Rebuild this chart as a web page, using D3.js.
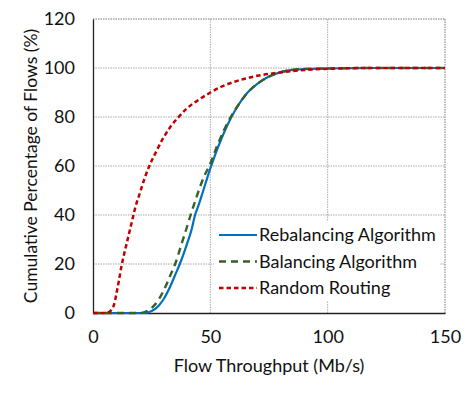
<!DOCTYPE html>
<html>
<head>
<meta charset="utf-8">
<script src="https://cdn.jsdelivr.net/npm/d3@7"></script>
<style>
  body { margin: 0; background: #fff; }
  text { font-family: Lato, "Open Sans", sans-serif; fill: #111; }
</style>
</head>
<body>
<div id="chart"></div>
<script>
'use strict';

// Values (x = throughput Mb/s, y = cumulative %)
const rebalX = [0, 22, 25, 28, 30, 33, 35, 37, 40, 42, 43.5, 45, 47, 50, 53, 56, 59, 62, 65, 70, 75, 80, 85, 90, 100, 120, 150];
const rebalY = [0, 0, 0.8, 3, 5.5, 11, 15.5, 20, 28, 34, 40, 44, 50, 59, 67, 74, 80, 85, 89, 93.5, 96.5, 98.3, 99.2, 99.6, 99.8, 100, 100];

const balX = [0, 20, 23, 26, 28, 31, 33, 35, 38, 40, 41.6, 44, 47, 50, 53, 56, 59, 62, 65, 70, 75, 80, 85, 90, 100, 120, 150];
const balY = [0, 0, 0.8, 3, 5.5, 11, 15.5, 20, 29, 35, 40, 47, 55, 61, 68.5, 75, 80.5, 85, 89, 93.5, 96.5, 98.3, 99.2, 99.6, 99.8, 100, 100];

const randX = [0, 5, 7, 8, 9, 10, 11, 12, 13, 14, 15, 16, 17, 18, 20, 22, 24, 27, 30, 33, 36, 40, 45, 50, 55, 60, 70, 80, 90, 100, 120, 150];
const randY = [0, 0, 0.5, 1.5, 3.5, 8, 13, 18.5, 23, 27, 31, 35, 39, 43, 49, 55, 60, 66, 71.5, 76, 79.5, 83.5, 87, 90, 92.5, 94.3, 96.8, 98.2, 99.2, 99.7, 100, 100];

const seriesNames = ["Rebalancing Algorithm", "Balancing Algorithm", "Random Routing"];
const xTicks = [0, 50, 100, 150];
const yTicks = [0, 20, 40, 60, 80, 100, 120];

const width = 474;
const height = 394;
const margin = {top: 19, right: 29, bottom: 81, left: 93};

const svg = d3.select("#chart").append("svg")
    .attr("width", width)
    .attr("height", height);

const x = d3.scaleLinear().domain([0, 150]).range([margin.left, width - margin.right]);
const y = d3.scaleLinear().domain([0, 120]).range([height - margin.bottom, margin.top]);

// gridlines
svg.append("g")
    .selectAll("line.h")
    .data(yTicks.slice(1))
    .join("line")
    .attr("x1", x(0)).attr("x2", x(150))
    .attr("y1", d => y(d)).attr("y2", d => y(d))
    .attr("stroke", d => d === 120 ? "#777" : "#aaa")
    .attr("stroke-width", 1)
    .attr("stroke-dasharray", "1.5,1");

svg.append("g")
    .selectAll("line.v")
    .data(xTicks.slice(1))
    .join("line")
    .attr("x1", d => x(d)).attr("x2", d => x(d))
    .attr("y1", y(0)).attr("y2", y(120))
    .attr("stroke", d => d === 150 ? "#777" : "#aaa")
    .attr("stroke-width", 1)
    .attr("stroke-dasharray", "1.5,1");

// axes
const yAxis = svg.append("g")
    .attr("transform", "translate(" + x(0) + ",0)")
    .call(d3.axisLeft(y).tickValues(yTicks).tickSize(0).tickPadding(18));
const xAxis = svg.append("g")
    .attr("transform", "translate(0," + y(0) + ")")
    .call(d3.axisBottom(x).tickValues(xTicks).tickSize(0).tickPadding(17));

[xAxis, yAxis].forEach(a => {
  a.select(".domain").attr("stroke", "#222").attr("stroke-width", 1.3);
  a.selectAll("text").style("font-size", "18px").attr("fill", "#111");
});

// curves
const line = d3.line()
    .x(d => x(d[0]))
    .y(d => y(d[1]))
    .curve(d3.curveMonotoneX);

const series = [
  {name: seriesNames[0], data: d3.zip(rebalX, rebalY), color: "#0070C0", dash: null, w: 2.2},
  {name: seriesNames[1], data: d3.zip(balX, balY), color: "#3A5F27", dash: "7,5", w: 2.4},
  {name: seriesNames[2], data: d3.zip(randX, randY), color: "#C00000", dash: "4.5,3", w: 2.5}
];

svg.append("g")
    .selectAll("path")
    .data(series)
    .join("path")
    .attr("d", d => line(d.data))
    .attr("fill", "none")
    .attr("stroke", d => d.color)
    .attr("stroke-width", d => d.w)
    .attr("stroke-dasharray", d => d.dash);

// legend
const legend = svg.append("g");
legend.append("rect")
    .attr("x", 214).attr("y", 221)
    .attr("width", 226).attr("height", 80)
    .attr("fill", "#fff");

const rows = legend.selectAll("g.row")
    .data(series)
    .join("g")
    .attr("transform", (d, i) => "translate(219," + (235 + i * 26.5) + ")");

rows.append("line")
    .attr("x1", 0).attr("x2", 38)
    .attr("stroke", d => d.color)
    .attr("stroke-width", d => d.w)
    .attr("stroke-dasharray", d => d.dash);

rows.append("text")
    .attr("x", 40)
    .attr("dy", "0.36em")
    .style("font-size", "18px")
    .text(d => d.name);

// axis titles
svg.append("text")
    .attr("x", (x(0) + x(150)) / 2)
    .attr("y", 372)
    .attr("text-anchor", "middle")
    .style("font-size", "18px")
    .text("Flow Throughput (Mb/s)");

svg.append("text")
    .attr("transform", "translate(37," + (y(0) + y(120)) / 2 + ") rotate(-90)")
    .attr("text-anchor", "middle")
    .style("font-size", "17.5px")
    .text("Cumulative Percentage of Flows (%)");
</script>
</body>
</html>
